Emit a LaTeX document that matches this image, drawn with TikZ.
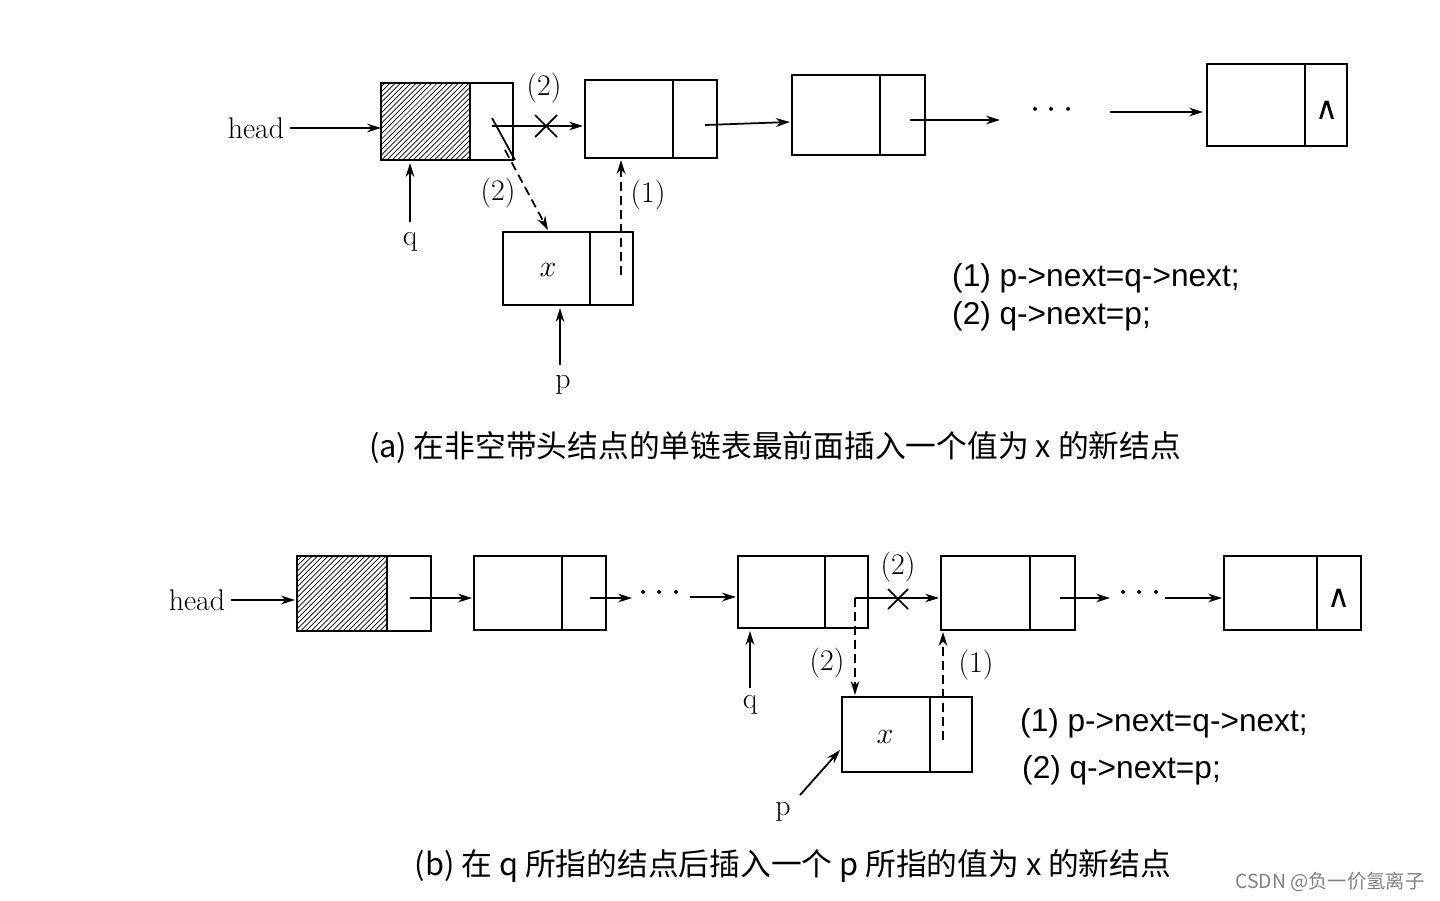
\documentclass[tikz,border=0pt]{standalone}
\usepackage{fontspec}
\newfontfamily\cjk{Noto Sans CJK SC}
\newfontfamily\codef{Liberation Sans}
\newfontfamily\djv{DejaVu Sans}
\usetikzlibrary{patterns,arrows.meta}
\begin{document}
\begin{tikzpicture}[x=0.02cm,y=-0.02cm,
  box/.style={draw,line width=1pt},
  arr/.style={-{Stealth[length=8pt,width=5pt]},line width=1pt},
  darr/.style={arr,dashed,dash pattern=on 5pt off 3pt},
  lab/.style={font=\fontsize{17}{17}\selectfont},
  dots/.style={font=\fontsize{22}{22}\selectfont},
  code/.style={font=\codef\fontsize{18}{18}\selectfont,anchor=west},
  captext/.style={font=\cjk\fontsize{17.5}{17.5}\selectfont}]
\useasboundingbox (0,0) rectangle (1440,900);
% ---------- (a)
\fill[pattern=north east lines,pattern color=black] (381,83) rectangle (470,160);
\draw[box] (381,83) rectangle (513,160); \draw[box] (470,83)--(470,160);
\coordinate (ah) at (381,128);
\draw[box] (585,80) rectangle (717,158); \draw[box] (673,80)--(673,158);
\draw[box] (792,75) rectangle (925,155); \draw[box] (880,75)--(880,155);
\draw[box] (1207,64) rectangle (1347,146); \draw[box] (1305,64)--(1305,146);
\node[font=\djv\fontsize{18}{18}\selectfont] (anul) at (1327,110) {∧};
\node[lab] (ahead) at (256,128) {head};
\draw[arr] (ahead.east) -- (ah);
\node[lab] (aq) at (410,242) {q};
\draw[arr] (410,222) -- (410,163);
\coordinate (a1s) at (492,126); \coordinate (a2w) at (583,126);
\draw[arr] (a1s) -- (a2w);
\draw[line width=1pt] (535,115)--(557,137) (535,137)--(557,115);
\node[lab] at (544,88) {(2)};
\draw[arr] (705,125) -- (790,122);
\draw[arr] (910,120) -- (1000,120);
\node[dots] at (1052,110) {$\cdots$};
\draw[arr] (1110,112) -- (1203,112);
\draw[box] (503,232) rectangle (633,305); \draw[box] (590,232)--(590,305);
\node[lab] (ax) at (548,270) {$x$};
\draw[darr] (621,275) -- (621,160);
\node[lab] at (648,195) {(1)};
\draw[line width=1pt] (492,118) -- (515,160);
\draw[darr] (505,150) -- (548,230);
\node[lab] at (498,193) {(2)};
\node[lab] (ap) at (563,385) {p};
\draw[arr] (560,365) -- (560,308);
\node[code] at (946,278) {(1) p->next=q->next;};
\node[code] at (946,316) {(2) q->next=p;};
\node[captext] at (775,447) {(a) 在非空带头结点的单链表最前面插入一个值为 \textit{x} 的新结点};
% ---------- (b)
\fill[pattern=north east lines,pattern color=black] (297,556) rectangle (387,631);
\draw[box] (297,556) rectangle (431,631); \draw[box] (387,556)--(387,631);
\draw[box] (474,556) rectangle (606,630); \draw[box] (562,556)--(562,630);
\draw[box] (738,556) rectangle (868,628); \draw[box] (825,556)--(825,628);
\draw[box] (941,556) rectangle (1075,630); \draw[box] (1030,556)--(1030,630);
\draw[box] (1224,556) rectangle (1361,630); \draw[box] (1317,556)--(1317,630);
\node[font=\djv\fontsize{18}{18}\selectfont] at (1339,598) {∧};
\node[lab] (bhead) at (197,600) {head};
\draw[arr] (bhead.east) -- (295,600);
\draw[arr] (410,598) -- (472,598);
\draw[arr] (590,598) -- (632,598);
\node[dots] at (660,593) {$\cdots$};
\draw[arr] (690,597) -- (736,597);
\node[lab] (bq) at (750,705) {q};
\draw[arr] (750,688) -- (750,631);
\draw[arr] (855,598) -- (939,598);
\draw[line width=1pt] (888,589)--(908,609) (888,609)--(908,589);
\node[lab] at (898,567) {(2)};
\draw[arr] (1060,598) -- (1110,598);
\node[dots] at (1140,593) {$\cdots$};
\draw[arr] (1165,598) -- (1222,598);
\draw[box] (842,697) rectangle (972,772); \draw[box] (930,697)--(930,772);
\node[lab] at (885,737) {$x$};
\draw[darr] (855,598) -- (855,695);
\node[lab] at (827,663) {(2)};
\draw[darr] (943,740) -- (943,632);
\node[lab] at (976,665) {(1)};
\node[lab] (bp) at (783,812) {p};
\draw[arr] (800,795) -- (840,750);
\node[code] at (1014,723) {(1) p->next=q->next;};
\node[code] at (1016,770) {(2) q->next=p;};
\node[captext] at (793,866) {(b) 在 q 所指的结点后插入一个 p 所指的值为 \textit{x} 的新结点};
\node[font=\cjk\fontsize{11}{11}\selectfont,text=gray] at (1330,882) {CSDN @负一价氢离子};
\end{tikzpicture}
\end{document}
